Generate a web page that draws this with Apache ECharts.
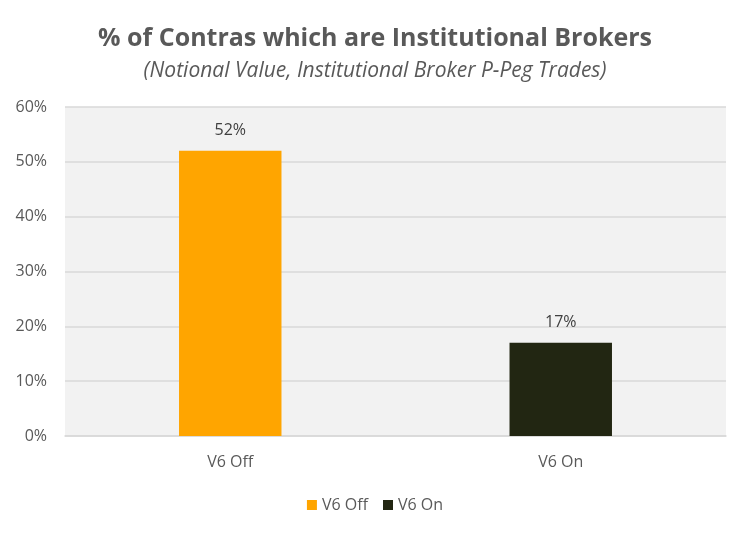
<!DOCTYPE html>
<html><head><meta charset="utf-8">
<script src="https://cdn.jsdelivr.net/npm/echarts@6/dist/echarts.min.js"></script>
<style>html,body{margin:0;padding:0;background:#fff;}#c{width:750px;height:536px;}</style>
</head><body><div id="c"></div>
<script>
const categories = ['V6 Off', 'V6 On'];
const seriesNames = ['V6 Off', 'V6 On'];
const offValues = [52, '-'];
const onValues = ['-', 17];
const yTicks = [0, 10, 20, 30, 40, 50, 60];
const colors = ['#FFA500', '#222612'];

const chart = echarts.init(document.getElementById('c'));
const font = '"Open Sans", sans-serif';
chart.setOption({
  backgroundColor: '#fff',
  animation: false,
  title: {
    text: '% of Contras which are Institutional Brokers',
    subtext: '(Notional Value, Institutional Broker P-Peg Trades)',
    left: 'center', top: 21, itemGap: 10,
    textStyle: {fontFamily: font, fontSize: 25, fontWeight: 'bold', color: '#595959'},
    subtextStyle: {fontFamily: font, fontSize: 21, fontStyle: 'italic', color: '#595959'}
  },
  legend: {
    bottom: 18, left: 'center', itemWidth: 10, itemHeight: 10, itemGap: 15,
    icon: 'rect',
    textStyle: {fontFamily: font, fontSize: 16, color: '#595959'},
    data: seriesNames
  },
  grid: {left: 65, right: 24, top: 107, bottom: 100, backgroundColor: '#F2F2F2', show: true, borderWidth: 0},
  xAxis: {
    type: 'category', data: categories,
    axisLine: {lineStyle: {color: '#D9D9D9', width: 1.5}},
    axisTick: {show: false},
    axisLabel: {fontFamily: font, fontSize: 16, color: '#595959', margin: 18}
  },
  yAxis: {
    type: 'value', min: yTicks[0], max: yTicks[yTicks.length-1], interval: 10,
    axisLabel: {fontFamily: font, fontSize: 16, color: '#595959', formatter: '{value}%', margin: 18},
    splitLine: {lineStyle: {color: '#D9D9D9', width: 1.5}},
    axisLine: {show: false}, axisTick: {show: false}
  },
  series: [
    {name: seriesNames[0], type: 'bar', stack: 's', data: offValues, barWidth: '31%',
     itemStyle: {color: colors[0]},
     label: {show: true, position: 'top', distance: 12, formatter: '{c}%', fontFamily: font, fontSize: 16, color: '#404040'}},
    {name: seriesNames[1], type: 'bar', stack: 's', data: onValues, barWidth: '31%',
     itemStyle: {color: colors[1]},
     label: {show: true, position: 'top', distance: 12, formatter: '{c}%', fontFamily: font, fontSize: 16, color: '#404040'}}
  ]
});
</script></body></html>
